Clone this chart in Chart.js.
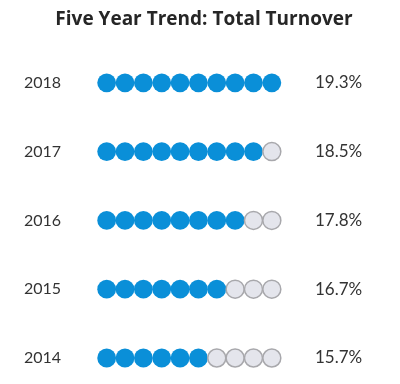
<!DOCTYPE html>
<html>
<head>
<meta charset="utf-8">
<script src="https://cdn.jsdelivr.net/npm/chart.js@4"></script>
<style>
  html, body { margin: 0; padding: 0; background: #ffffff; }
  #wrap { width: 400px; height: 384px; }
</style>
</head>
<body>
<div id="wrap"><canvas id="trendChart"></canvas></div>
<script>
const years = ["2018", "2017", "2016", "2015", "2014"];
const filledDots = [10, 9, 8, 7, 6];
const turnoverPct = ["19.3%", "18.5%", "17.8%", "16.7%", "15.7%"];
const totalDots = 10;

const filledPoints = [];
const emptyPoints = [];
years.forEach((year, i) => {
    for (let d = 1; d <= totalDots; d++) {
        if (d <= filledDots[i]) {
            filledPoints.push({ x: d, y: year });
        } else {
            emptyPoints.push({ x: d, y: year });
        }
    }
});

// tick padding would otherwise be added to the top/bottom layout padding
function fixAxis(width) {
    return (scale) => {
        scale.width = width;
        scale.paddingTop = 0;
        scale.paddingBottom = 0;
    };
}

new Chart(document.getElementById("trendChart"), {
    type: "scatter",
    data: {
        datasets: [
            {
                data: emptyPoints,
                pointRadius: 9,
                pointBackgroundColor: "#e4e5ec",
                pointBorderColor: "#a8a8ac",
                pointBorderWidth: 1.5,
                clip: false
            },
            {
                data: filledPoints,
                pointRadius: 9.4,
                pointBackgroundColor: "#0a8fd8",
                pointBorderColor: "#0a8fd8",
                pointBorderWidth: 0,
                clip: false
            }
        ]
    },
    options: {
        responsive: true,
        maintainAspectRatio: false,
        animation: false,
        layout: { padding: { left: 24, right: 16, top: 0, bottom: 26 } },
        plugins: {
            legend: { display: false },
            tooltip: { enabled: false },
            title: {
                display: true,
                text: "Five Year Trend: Total Turnover",
                color: "#262626",
                font: { family: "Open Sans", size: 19, weight: "bold" },
                padding: { top: 8, bottom: 52 }
            }
        },
        scales: {
            x: {
                type: "linear",
                display: false,
                min: 0.5,
                max: 10.5
            },
            y: {
                type: "category",
                labels: years,
                position: "left",
                offset: false,
                grid: { display: false, drawTicks: false },
                border: { display: false },
                ticks: { crossAlign: "far", color: "#333333", font: { family: "Lato", size: 16 }, padding: 0 },
                afterFit: fixAxis(73.5)
            },
            y2: {
                type: "category",
                labels: turnoverPct,
                position: "right",
                offset: false,
                grid: { display: false, drawTicks: false },
                border: { display: false },
                ticks: { crossAlign: "near", color: "#333333", font: { family: "Lato", size: 17 }, padding: 34 },
                afterFit: fixAxis(103)
            }
        }
    }
});
</script>
</body>
</html>
